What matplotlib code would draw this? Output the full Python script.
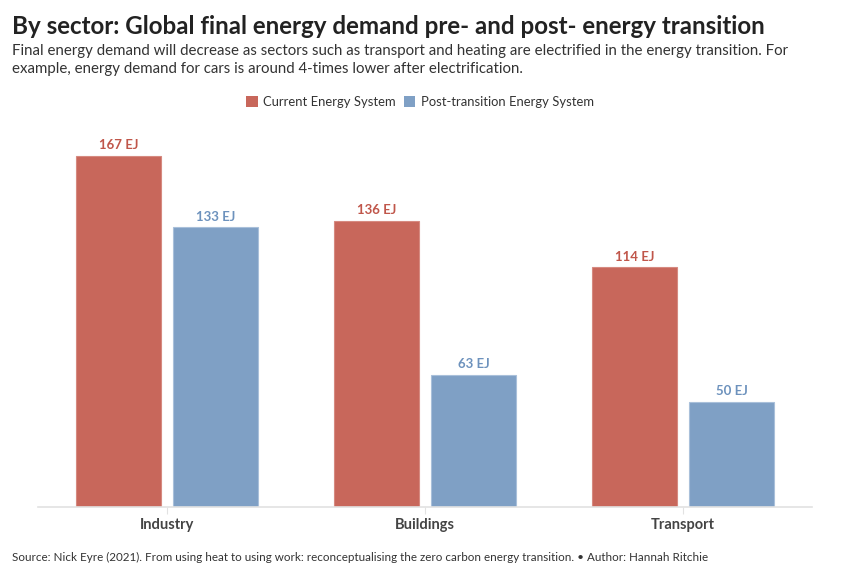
import numpy as np
import matplotlib
matplotlib.use("Agg")
import matplotlib.pyplot as plt
from matplotlib.patches import Patch

plt.rcParams['font.family'] = ['Lato', 'DejaVu Sans']

# data
sectors = ['Industry', 'Buildings', 'Transport']
current = [167, 136, 114]
post = [133, 63, 50]
series_names = ['Current Energy System', 'Post-transition Energy System']

red = '#c8675b'
blue = '#7fa0c5'
red_txt = '#c0564a'
blue_txt = '#6d92bd'

fig = plt.figure(figsize=(8.52, 5.75), dpi=100)
W, H = 852, 575
ax_left, ax_right, ax_bottom = 38 / W, 812 / W, (H - 507) / H
px_per_unit = 351 / 167
ymax = 180
ax_h = ymax * px_per_unit / H
ax = fig.add_axes([ax_left, ax_bottom, ax_right - ax_left, ax_h])

x = np.arange(len(sectors))
width = 0.333
off = 0.188
b1 = ax.bar(x - off, current, width, color=red, edgecolor='#d68a80', linewidth=0.8)
b2 = ax.bar(x + off, post, width, color=blue, edgecolor='#a9c0da', linewidth=0.8)

for bars, vals, c in [(b1, current, red_txt), (b2, post, blue_txt)]:
    for b, v in zip(bars, vals):
        ax.annotate(f'{v} EJ', (b.get_x() + b.get_width() / 2, v),
                    xytext=(0, 3.5), textcoords='offset points',
                    ha='center', va='bottom', fontsize=9.5,
                    fontweight='bold', color=c)

ax.set_xlim(-0.5, 2.5)
ax.set_ylim(0, ymax)
for s in ['top', 'right', 'left']:
    ax.spines[s].set_visible(False)
ax.spines['bottom'].set_color('#e2e2e2')
ax.spines['bottom'].set_linewidth(1.2)
ax.set_yticks([])
ax.set_xticks(x)
ax.set_xticklabels(sectors, fontsize=10.5, fontweight='bold', color='#444444')
ax.tick_params(axis='x', length=5, color='#e2e2e2', pad=3)

# titles
fig.text(12 / W, 1 - 26 / H, 'By sector: Global final energy demand pre- and post- energy transition',
         fontsize=17.4, fontweight='bold', color='#222222', va='center')
fig.text(12 / W, 1 - 60 / H,
         'Final energy demand will decrease as sectors such as transport and heating are electrified in the energy transition. For\n'
         'example, energy demand for cars is around 4-times lower after electrification.',
         fontsize=10.85, color='#333333', va='center', linespacing=1.45)

handles = [Patch(facecolor=red, edgecolor='none'), Patch(facecolor=blue, edgecolor='none')]
fig.legend(handles, series_names, loc='center', bbox_to_anchor=(420 / W, 1 - 102 / H),
           ncol=2, frameon=False, fontsize=9.4, handlelength=0.9, handleheight=0.9,
           handletextpad=0.4, columnspacing=0.6, labelcolor='#333333')

fig.text(12 / W, 1 - 557 / H,
         'Source: Nick Eyre (2021). From using heat to using work: reconceptualising the zero carbon energy transition. \u2022 Author: Hannah Ritchie',
         fontsize=8.4, color='#333333', va='center')

fig.savefig('out.png', dpi=100, facecolor='white')
